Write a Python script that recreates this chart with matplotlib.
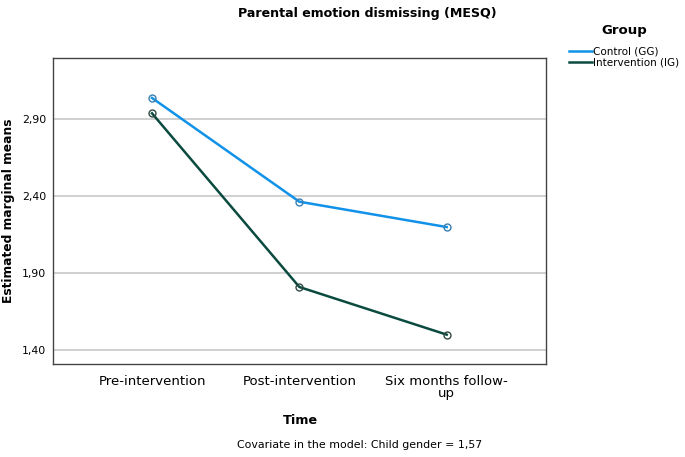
import matplotlib
matplotlib.use("Agg")
import matplotlib.pyplot as plt

categories = ["Pre-intervention", "Post-intervention", "Six months follow-\nup"]
control = [3.04, 2.365, 2.20]
intervention = [2.94, 1.81, 1.50]
yticks = [1.40, 1.90, 2.40, 2.90]
ytick_labels = ["1,40", "1,90", "2,40", "2,90"]

plt.rcParams['font.family'] = ['DejaVu Sans']

fig = plt.figure(figsize=(6.85, 4.57), dpi=100)
ax = fig.add_axes([53/685, 1-364/457, (546-53)/685, (364-58)/457])

x = list(range(len(categories)))
c_col = "#1192e8"
i_col = "#0b4a3f"
ax.plot(x, control, color=c_col, lw=1.8, marker='o', ms=5, mfc='none',
        mec="#3a7fb0", mew=1.0, label="Control (GG)", zorder=3)
ax.plot(x, intervention, color=i_col, lw=1.8, marker='o', ms=5, mfc='none',
        mec="#2f4a44", mew=1.0, label="Intervention (IG)", zorder=3)

ax.set_xlim(-0.672, 2.674)
ax.set_ylim(1.309, 3.30)
ax.set_yticks(yticks)
ax.set_yticklabels(ytick_labels, fontsize=7.8)
ax.set_xticks(x)
ax.set_xticklabels(categories, fontsize=9.5, linespacing=0.85)
ax.tick_params(axis='both', length=0)
ax.tick_params(axis='y', pad=5)
ax.tick_params(axis='x', pad=8)
ax.yaxis.grid(True, color="#c8c8c8", lw=1.2)
ax.set_axisbelow(True)
for s in ax.spines.values():
    s.set_color("#444444")
    s.set_linewidth(1.0)

fig.text(9/685, 1-211/457, "Estimated marginal means", rotation=90, ha='center', va='center',
         fontsize=8.8, fontweight='bold')
fig.text(300/685, 1-420/457, "Time", ha='center', va='center', fontsize=9.2, fontweight='bold')
fig.text(360/685, 1-445/457, "Covariate in the model: Child gender = 1,57",
         ha='center', va='center', fontsize=7.9)
fig.text(367/685, 1-13/457, "Parental emotion dismissing (MESQ)", ha='center', va='center',
         fontsize=9.1, fontweight='bold')

leg = fig.legend(loc='upper center', bbox_to_anchor=(624/685, 1-24/457), frameon=False,
                 title="Group", fontsize=7.5, handlelength=2.2, handletextpad=0.1,
                 labelspacing=0.1, borderpad=0, borderaxespad=0)
leg.get_title().set_fontweight('bold')
leg.get_title().set_fontsize(9.5)
for h in leg.legend_handles:
    h.set_marker('')
leg._legend_box.sep = 7

fig.savefig("out.png", dpi=100)
